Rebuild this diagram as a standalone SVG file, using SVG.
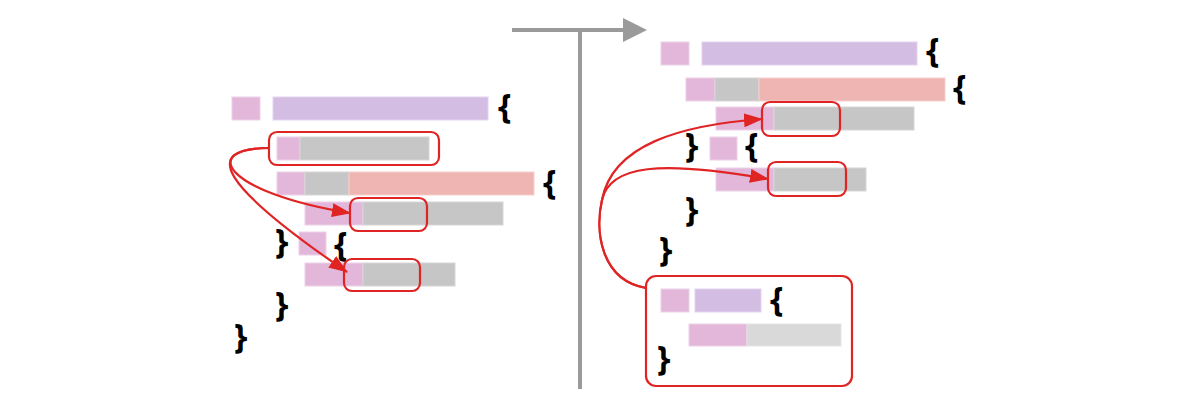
<svg xmlns="http://www.w3.org/2000/svg" width="1200" height="418" viewBox="0 0 1200 418">
<style>
.pk{fill:#e2b7da;stroke:#ecd2e7;stroke-width:1}
.pu{fill:#d3bde3;stroke:#e3d3ef;stroke-width:1}
.gr{fill:#c6c6c6;stroke:#d6d6d6;stroke-width:1}
.lg{fill:#d9d9d9;stroke:#e4e4e4;stroke-width:1}
.sa{fill:#efb5b3;stroke:#f5cfcd;stroke-width:1}
.hl{fill:none;stroke:#e02424;stroke-width:2.2}
.br{font-family:"Noto Sans","DejaVu Sans",sans-serif;font-weight:bold;font-size:34px;fill:#000}
.cn{fill:none;stroke:#e02424;stroke-width:2.2}
</style>
<defs>
<marker id="ah" markerUnits="userSpaceOnUse" markerWidth="19" markerHeight="14" viewBox="0 0 19 14" refX="18" refY="7" orient="auto">
<path d="M0,0 L19,7 L0,14 z" fill="#e02424"/>
</marker>
</defs>
<g id="timeline">
<line x1="512" y1="30" x2="626" y2="30" stroke="#9a9a9a" stroke-width="4"/>
<polygon points="623,18 647,30 623,42" fill="#9a9a9a"/>
<line x1="580" y1="30" x2="580" y2="389" stroke="#9a9a9a" stroke-width="4"/>
</g>
<g id="left-code">
<rect class="pk" x="232" y="97" width="28" height="23"/>
<rect class="pu" x="273" y="97" width="215" height="23"/>
<text class="br" x="498" y="118">{</text>
<rect class="pk" x="277" y="137" width="23" height="23"/>
<rect class="gr" x="300" y="137" width="129" height="23"/>
<rect class="pk" x="277" y="172" width="28" height="23"/>
<rect class="gr" x="305" y="172" width="44" height="23"/>
<rect class="sa" x="349" y="172" width="185" height="23"/>
<text class="br" x="543" y="194">{</text>
<rect class="pk" x="305" y="202" width="58" height="23"/>
<rect class="gr" x="363" y="202" width="140" height="23"/>
<text class="br" x="275" y="253">}</text>
<rect class="pk" x="299" y="232" width="27" height="23"/>
<text class="br" x="334" y="256">{</text>
<rect class="pk" x="305" y="263" width="58" height="23"/>
<rect class="gr" x="363" y="263" width="92" height="23"/>
<text class="br" x="275" y="316">}</text>
<text class="br" x="234" y="348">}</text>
</g>
<g id="left-highlight-1"><rect class="hl" x="269" y="132" width="170" height="33" rx="8"/></g>
<g id="left-highlight-2"><rect class="hl" x="350" y="198" width="77" height="33" rx="8"/></g>
<g id="left-highlight-3"><rect class="hl" x="344" y="259" width="76" height="32" rx="8"/></g>
<g id="right-code">
<rect class="pk" x="661" y="42" width="28" height="23"/>
<rect class="pu" x="702" y="42" width="215" height="23"/>
<text class="br" x="926" y="62">{</text>
<rect class="pk" x="686" y="78" width="29" height="23"/>
<rect class="gr" x="715" y="78" width="44" height="23"/>
<rect class="sa" x="759" y="78" width="186" height="23"/>
<text class="br" x="953" y="99">{</text>
<rect class="pk" x="716" y="107" width="58" height="23"/>
<rect class="gr" x="774" y="107" width="140" height="23"/>
<text class="br" x="685" y="157">}</text>
<rect class="pk" x="710" y="137" width="27" height="23"/>
<text class="br" x="745" y="157">{</text>
<rect class="pk" x="716" y="168" width="58" height="23"/>
<rect class="gr" x="774" y="168" width="92" height="23"/>
<text class="br" x="685" y="221">}</text>
<text class="br" x="659" y="261">}</text>
</g>
<g id="right-highlight-1"><rect class="hl" x="762" y="102" width="78" height="34" rx="8"/></g>
<g id="right-highlight-2"><rect class="hl" x="768" y="162" width="78" height="34" rx="8"/></g>
<g id="extracted-box">
<rect class="hl" x="646" y="276" width="206" height="110" rx="10"/>
<rect class="pk" x="661" y="289" width="28" height="23"/>
<rect class="pu" x="695" y="289" width="66" height="23"/>
<text class="br" x="770" y="311">{</text>
<rect class="pk" x="689" y="324" width="58" height="22"/>
<rect class="lg" x="747" y="324" width="94" height="22"/>
<text class="br" x="657" y="370">}</text>
</g>
<g id="connectors">
<path class="cn" d="M269,148 C200,148 222,192 350,213" marker-end="url(#ah)"/>
<path class="cn" d="M269,148 C200,148 220,185 347,272" marker-end="url(#ah)"/>
<path class="cn" d="M646,288 C600,280 595,230 602,200 C612,145 680,125 762,119" marker-end="url(#ah)"/>
<path class="cn" d="M646,288 C600,280 595,230 602,200 C610,165 660,160 768,179" marker-end="url(#ah)"/>
</g>
</svg>
